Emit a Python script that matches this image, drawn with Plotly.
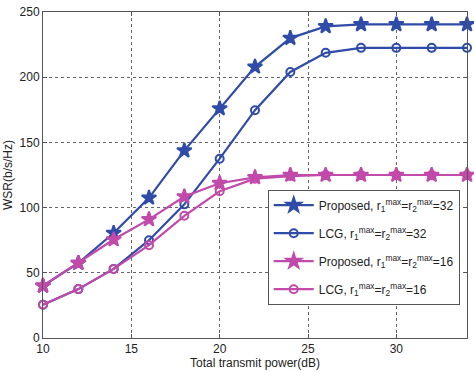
import plotly.graph_objects as go

power_db = [10, 12, 14, 16, 18, 20, 22, 24, 26, 28, 30, 32, 34]
proposed_32 = [40, 57.5, 80.5, 107.5, 143.7, 176, 208, 230, 239, 240.5, 240.5, 240.5, 240.5]
lcg_32 = [25.5, 37.5, 53, 75, 102.5, 137.5, 174.7, 204, 218.7, 222.5, 222.5, 222.5, 222.5]
proposed_16 = [40, 57.5, 75.5, 91, 108.5, 118.7, 123.2, 125, 125, 125, 125, 125, 125]
lcg_16 = [25.5, 37.5, 53, 71.2, 93.7, 112.5, 122.2, 124.2, 125, 125, 125, 125, 125]

names = [
    "Proposed, r<sub>1</sub><sup>max</sup>=r<sub>2</sub><sup>max</sup>=32",
    "LCG, r<sub>1</sub><sup>max</sup>=r<sub>2</sub><sup>max</sup>=32",
    "Proposed, r<sub>1</sub><sup>max</sup>=r<sub>2</sub><sup>max</sup>=16",
    "LCG, r<sub>1</sub><sup>max</sup>=r<sub>2</sub><sup>max</sup>=16",
]

BLUE = "#2F4CA8"
MAG = "#C14AAA"

series = [
    (proposed_32, BLUE, "star", 11),
    (lcg_32, BLUE, "circle-open", 8),
    (proposed_16, MAG, "star", 11),
    (lcg_16, MAG, "circle-open", 8),
]

fig = go.Figure()
for i, ((vals, col, sym, sz), nm) in enumerate(zip(series, names)):
    fig.add_trace(go.Scatter(
        x=power_db, y=vals, name=nm, mode="lines+markers",
        legendgroup=f"g{i}",
        line=dict(color=col, width=2.2),
        marker=dict(symbol=sym, size=sz, color=col, line=dict(color=col, width=2)),
        cliponaxis=False,
    ))

axis_common = dict(
    showline=True, linecolor="#555555", linewidth=1, mirror="ticks",
    ticks="inside", ticklen=4, tickcolor="#555555",
    showgrid=True, gridcolor="#666666", griddash="dot", gridwidth=1,
    zeroline=False,
    tickfont=dict(family="Liberation Sans, Arial, sans-serif", size=12, color="#222222"),
)

fig.update_layout(
    width=474, height=372,
    margin=dict(l=43, r=7, t=5, b=34),
    paper_bgcolor="white", plot_bgcolor="white",
    font=dict(family="Liberation Sans, Arial, sans-serif", size=12, color="#222222"),
    xaxis=dict(range=[10, 34], tickvals=[10, 15, 20, 25, 30],
               title=dict(text="Total transmit power(dB)", standoff=2,
                          font=dict(size=12)),
               **axis_common),
    yaxis=dict(range=[0, 250.01], tickvals=[0, 50, 100, 150, 200, 250],
               ticklabeloverflow="allow",
               title=dict(text="WSR(b/s/Hz)", standoff=4, font=dict(size=12)),
               **axis_common),
    legend=dict(
        x=0.53, y=0.455, xanchor="left", yanchor="top",
        bgcolor="white", bordercolor="#555555", borderwidth=1,
        font=dict(size=12, color="#222222"),
        itemwidth=40, tracegroupgap=9,
    ),
)

fig.write_html("out.html", config={"displayModeBar": False},
               post_script="document.body.style.margin='0';")
